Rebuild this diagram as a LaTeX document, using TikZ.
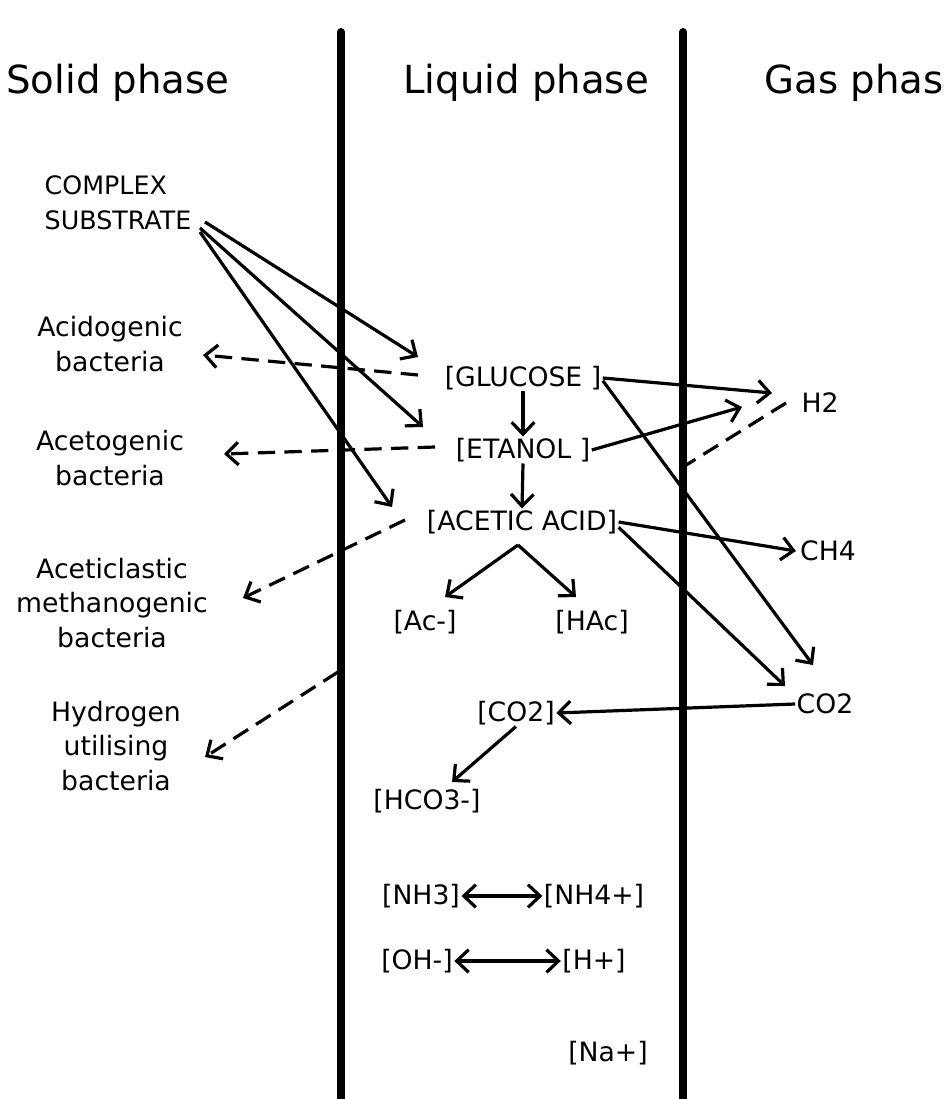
\documentclass[tikz,border=0pt]{standalone}
\usepackage{fontspec}
\setmainfont{DejaVu Sans}
\usetikzlibrary{arrows.meta}
\begin{document}
\begin{tikzpicture}[x=0.75pt,y=-0.75pt,
  lab/.style={inner sep=1pt,font=\fontsize{20}{24}\selectfont},
  hd/.style={inner sep=1pt,font=\fontsize{29}{33}\selectfont},
  bact/.style={inner sep=1pt,align=center,font=\fontsize{20}{26}\selectfont},
  ar/.style={line width=2.4pt,-{Straight Barb[length=9pt,width=17pt,line width=2.4pt]}},
  dar/.style={ar,dash pattern=on 13pt off 7pt},
  dbl/.style={line width=2.4pt,{Straight Barb[length=9pt,width=17pt,line width=2.4pt]}-{Straight Barb[length=9pt,width=17pt,line width=2.4pt]}},
  wall/.style={line width=6pt,line cap=round}]
\useasboundingbox (0,0) rectangle (943,1099);
\begin{scope}
\clip (0,0) rectangle (943,1099);
\coordinate (w1t) at (341,32); \coordinate (w1b) at (341,1110);
\coordinate (w2t) at (683,32); \coordinate (w2b) at (683,1110);
\draw[wall] (w1t) -- (w1b);
\draw[wall] (w2t) -- (w2b);
\node[hd] (sp) at (118,83) {Solid phase};
\node[hd] (lp) at (526,83) {Liquid phase};
\node[hd,anchor=west] (gp) at (763,83) {Gas phase};
\end{scope}
\node[bact,align=left,font=\fontsize{19}{26}\selectfont] (cs) at (118,203) {COMPLEX\\SUBSTRATE};
\node[bact] (acb) at (110,344) {Acidogenic\\bacteria};
\node[bact] (atb) at (110,458) {Acetogenic\\bacteria};
\node[bact] (amb) at (112,603) {Aceticlastic\\methanogenic\\bacteria};
\node[bact] (hub) at (116,746) {Hydrogen\\utilising\\bacteria};
\node[lab] (glu) at (523,378) {[GLUCOSE ]};
\node[lab] (eta) at (523,450) {[ETANOL ]};
\node[lab] (aca) at (522,522) {[ACETIC ACID]};
\node[lab] (acm) at (425,622) {[Ac-]};
\node[lab] (hac) at (592,622) {[HAc]};
\node[lab] (co2l) at (516,713) {[CO2]};
\node[lab] (hco) at (427,801) {[HCO3-]};
\node[lab] (nh3) at (421,896) {[NH3]};
\node[lab] (nh4) at (594,896) {[NH4+]};
\node[lab] (oh) at (417,961) {[OH-]};
\node[lab] (hp) at (594,961) {[H+]};
\node[lab] (na) at (608,1053) {[Na+]};
\node[lab] (h2) at (820,403) {H2};
\node[lab] (ch4) at (828,551) {CH4};
\node[lab] (co2g) at (825,704) {CO2};
\coordinate (e1) at (418,357); \coordinate (e2) at (423,427); \coordinate (e3) at (392,507);
\coordinate (s1) at (205,222); \coordinate (s2) at (200,228); \coordinate (s3) at (200,232);
\draw[ar] (s1) -- (e1);
\draw[ar] (s2) -- (e2);
\draw[ar] (s3) -- (e3);
\coordinate (d1) at (418,375); \coordinate (d1e) at (203,355);
\coordinate (d2) at (435,447); \coordinate (d2e) at (224,454);
\coordinate (d3) at (405,520); \coordinate (d3e) at (243,598);
\coordinate (hs) at (338,672); \coordinate (d4e) at (205,757);
\draw[dar] (d1) -- (d1e);
\draw[dar] (d2) -- (d2e);
\draw[dar] (d3) -- (d3e);
\draw[dar] (hs) -- (d4e);
\draw[ar] (glu.south) -- (eta.north);
\draw[ar] (eta.south) -- (aca.north);
\coordinate (ab) at (518,545);
\draw[ar] (ab) -- (445,597);
\draw[ar] (ab) -- (576,597);
\draw[ar] (co2g.west) -- (co2l.east);
\draw[ar] (co2l.south) -- (452,782);
\draw[dbl] (nh3.east) -- (nh4.west);
\draw[dbl] (oh.east) -- (hp.west);
\coordinate (h2a) at (772,393); \coordinate (h2b) at (742,407);
\coordinate (co2a) at (813,665); \coordinate (co2b) at (785,686);
\coordinate (gw) at (683,467);
\draw[ar] (glu.east) -- (h2a);
\draw[ar] ([yshift=-2pt]glu.east) -- (co2a);
\draw[ar] (eta.east) -- (h2b);
\draw[line width=2.4pt,dash pattern=on 13pt off 7pt] (786,403) -- (gw);
\draw[ar] (aca.east) -- ([xshift=-2pt]ch4.west);
\draw[ar] ([yshift=-4pt]aca.east) -- (co2b);
\end{tikzpicture}
\end{document}
